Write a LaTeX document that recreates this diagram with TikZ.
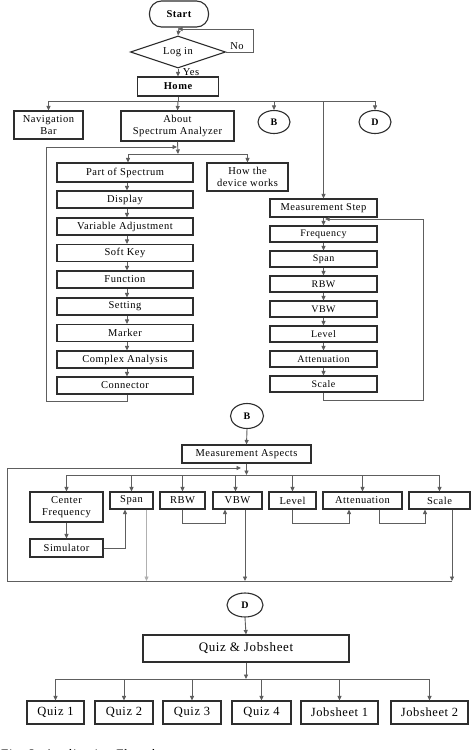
\documentclass[tikz,border=0pt]{standalone}
\usepackage{fontspec}
\setmainfont{Liberation Serif}[LetterSpace=5]
\usetikzlibrary{shapes.geometric,arrows.meta}
\definecolor{boxc}{HTML}{2E2E2E}
\definecolor{connc}{HTML}{5E5E5E}
\definecolor{lightc}{HTML}{B0B0B0}
\begin{document}
\begin{tikzpicture}[x=1pt,y=-1pt,
  box/.style={draw=boxc, line width=1.1pt, rectangle, inner sep=0pt, align=center, font=\fontsize{10.5}{11.5}\selectfont},
  rbox/.style={box, font=\fontsize{10}{11}\selectfont},
  qbox/.style={box, font=\fontsize{12.5}{14}\selectfont},
  circ/.style={draw=boxc, line width=1.1pt, ellipse, inner sep=0pt, font=\fontsize{10}{11}\selectfont\bfseries},
  conn/.style={draw=connc, line width=0.9pt},
  arr/.style={conn, -{Triangle[length=4.5pt,width=4pt]}},
  lbl/.style={inner sep=0pt, font=\fontsize{10.5}{11.5}\selectfont}]
\fill[white] (0,0) rectangle (474,750);
\useasboundingbox (0,0) rectangle (474,750);

% top
\node[box, rounded corners=12pt, minimum width=59pt, minimum height=26pt, font=\fontsize{10.5}{11.5}\selectfont\bfseries] (start) at (179,14) {Start};
\node[draw=boxc, line width=1.1pt, diamond, aspect=3, inner sep=0pt, minimum width=95pt, minimum height=32pt, font=\fontsize{10.5}{11.5}\selectfont] (login) at (178,52) {Log in};
\node[box, minimum width=81pt, minimum height=19pt, font=\fontsize{10.5}{11.5}\selectfont\bfseries] (home) at (178,86.5) {Home};
\node[box, minimum width=69pt, minimum height=28pt] (nav) at (48.5,125) {Navigation\\Bar};
\node[box, minimum width=113pt, minimum height=30pt] (about) at (177.5,126) {About\\Spectrum Analyzer};
\node[circ, minimum width=32pt, minimum height=23pt] (b1) at (274,122) {B};
\node[circ, minimum width=32pt, minimum height=23pt] (d1) at (375,122) {D};

\coordinate (loopin) at (178,29);
\node[lbl] (no) at (237,46) {No};
\node[lbl] (yes) at (191,72) {Yes};
\draw[arr] (start.south) -- (login.north);
\draw[arr] (login.east) -- (253,52) |- (loopin);
\draw[arr] (login.south) -- (home.north);
\coordinate (hb) at (178,101);
\draw[conn] (home.south) -- (hb);
\draw[arr] (hb) -| (nav.north);
\draw[arr] (hb) -- (about.north);
\draw[arr] (hb) -| (b1.north);
\draw[arr] (hb) -| (d1.north);

% left column
\node[box, minimum width=136pt, minimum height=19pt] (c1) at (125,172.5) {Part of Spectrum};
\node[box, minimum width=81pt, minimum height=28pt] (how) at (247.5,177) {How the\\device works};
\node[box, minimum width=136pt, minimum height=17pt] (c2) at (125,199.5) {Display};
\node[box, minimum width=136pt, minimum height=17pt] (c3) at (125,226.5) {Variable Adjustment};
\node[box, minimum width=136pt, minimum height=17pt] (c4) at (125,253) {Soft Key};
\node[box, minimum width=136pt, minimum height=17pt] (c5) at (125,279.5) {Function};
\node[box, minimum width=136pt, minimum height=17pt] (c6) at (125,306.5) {Setting};
\node[box, minimum width=136pt, minimum height=17pt] (c7) at (125,333) {Marker};
\node[box, minimum width=136pt, minimum height=17pt] (c8) at (125,359.5) {Complex Analysis};
\node[box, minimum width=136pt, minimum height=17pt] (c9) at (125,385.5) {Connector};

\coordinate (ab) at (178,154);
\coordinate (aboutin) at (177,147);
\draw[arr] (about.south) -- (ab);
\draw[arr] (ab) -| ([xshift=3pt]c1.north);
\draw[arr] (ab) -| (how.north);
\foreach \a/\b in {c1/c2,c2/c3,c3/c4,c4/c5,c5/c6,c6/c7,c7/c8,c8/c9}
  \draw[arr] ([xshift=2pt]\a.south) -- ([xshift=2pt]\b.north);
\draw[arr] ([xshift=2pt]c9.south) |- (46,401) |- (aboutin);

% right column
\node[box, minimum width=107pt, minimum height=18pt] (meas) at (323.5,208) {Measurement Step};
\node[rbox, minimum width=107pt, minimum height=16pt] (r1) at (323.5,234) {Frequency};
\node[rbox, minimum width=107pt, minimum height=16pt] (r2) at (323.5,259) {Span};
\node[rbox, minimum width=107pt, minimum height=16pt] (r3) at (323.5,284) {RBW};
\node[rbox, minimum width=107pt, minimum height=16pt] (r4) at (323.5,309) {VBW};
\node[rbox, minimum width=107pt, minimum height=16pt] (r5) at (323.5,334) {Level};
\node[rbox, minimum width=107pt, minimum height=16pt] (r6) at (323.5,359) {Attenuation};
\node[rbox, minimum width=107pt, minimum height=16pt] (r7) at (323.5,384) {Scale};
\draw[arr] (323.5,101) -- (meas.north);
\draw[arr] (meas.south) -- (r1.north);
\foreach \a/\b in {r1/r2,r2/r3,r3/r4,r4/r5,r5/r6,r6/r7}
  \draw[arr] (\a.south) -- (\b.north);
\coordinate (measin) at (325,219);
\draw[arr] (r7.south) |- (423,400) |- (measin);

% B section
\node[circ, minimum width=33pt, minimum height=25pt] (b2) at (247,416) {B};
\node[box, minimum width=129pt, minimum height=18pt] (ma) at (246.5,454) {Measurement Aspects};
\node[box, minimum width=73pt, minimum height=30pt] (cf) at (66.5,507) {Center\\Frequency};
\node[box, minimum width=43pt, minimum height=17pt] (s2) at (131.5,500.5) {Span};
\node[box, minimum width=45pt, minimum height=17pt] (rb2) at (182.5,500.5) {RBW};
\node[box, minimum width=49pt, minimum height=17pt] (vb2) at (237.5,500.5) {VBW};
\node[box, minimum width=47pt, minimum height=17pt] (lv2) at (292.5,500.5) {Level};
\node[box, minimum width=79pt, minimum height=17pt] (at2) at (362.5,500.5) {Attenuation};
\node[box, minimum width=61pt, minimum height=17pt] (sc2) at (439.5,500.5) {Scale};
\node[box, minimum width=73pt, minimum height=18pt] (sim) at (66.5,548) {Simulator};

\draw[arr] (b2.south) -- (ma.north);
\coordinate (mb) at (246.5,475);
\coordinate (main) at (241,468);
\draw[arr] (ma.south) -- (mb);
\draw[arr] (mb) -| (cf.north);
\draw[arr] (mb) -| (s2.north);
\draw[arr] (mb) -| (rb2.north);
\draw[arr] (mb) -| ([xshift=-2pt]vb2.north);
\draw[arr] (mb) -| (lv2.north);
\draw[arr] (mb) -| (at2.north);
\draw[arr] (mb) -| (sc2.north);
\draw[arr] (cf.south) -- (sim.north);
\draw[arr] (sim.east) -| ([xshift=-6.5pt]s2.south);
\draw[arr] (rb2.south) |- (225,523) -- ([xshift=-12.5pt]vb2.south);
\draw[arr] (lv2.south) |- (349,523) -- ([xshift=-13.5pt]at2.south);
\draw[arr] ([xshift=16.5pt]at2.south) |- (425,523) -- ([xshift=-14.5pt]sc2.south);
\draw[draw=lightc, line width=0.7pt, -{Triangle[length=4.5pt,width=4pt]}] ([xshift=15pt]s2.south) -- (146.5,581);
\draw[arr] ([xshift=7.5pt]vb2.south) -- (245,581);
\draw[arr] ([xshift=12.5pt]sc2.south) -- (452,581);
\draw[arr] (452,581) -- (7,581) -- (7,468) -- (main);

% D section
\node[circ, minimum width=36pt, minimum height=24pt] (d2) at (245,605) {D};
\node[box, minimum width=206pt, minimum height=27pt, font=\fontsize{13}{15}\selectfont] (qj) at (246,648.5) {Quiz \& Jobsheet};
\node[qbox, minimum width=57pt, minimum height=23pt] (q1) at (55.5,712.5) {Quiz 1};
\node[qbox, minimum width=58pt, minimum height=23pt] (q2) at (124,712.5) {Quiz 2};
\node[qbox, minimum width=58pt, minimum height=23pt] (q3) at (192,712.5) {Quiz 3};
\node[qbox, minimum width=59pt, minimum height=23pt] (q4) at (261.5,712.5) {Quiz 4};
\node[qbox, minimum width=77pt, minimum height=23pt] (j1) at (339.5,712.5) {Jobsheet 1};
\node[qbox, minimum width=77pt, minimum height=23pt] (j2) at (429.5,712.5) {Jobsheet 2};
\draw[arr] (d2.south) -- (qj.north);
\coordinate (qb) at (246,679);
\draw[arr] (qj.south) -- (qb);
\foreach \q in {q1,q2,q3,q4,j1,j2}
  \draw[arr] (qb) -| (\q.north);

\node[anchor=base west, inner sep=0pt, font=\fontsize{13}{15}\selectfont] (cap) at (1,758) {Fig. 3. Application Flowchart};
\end{tikzpicture}
\end{document}
